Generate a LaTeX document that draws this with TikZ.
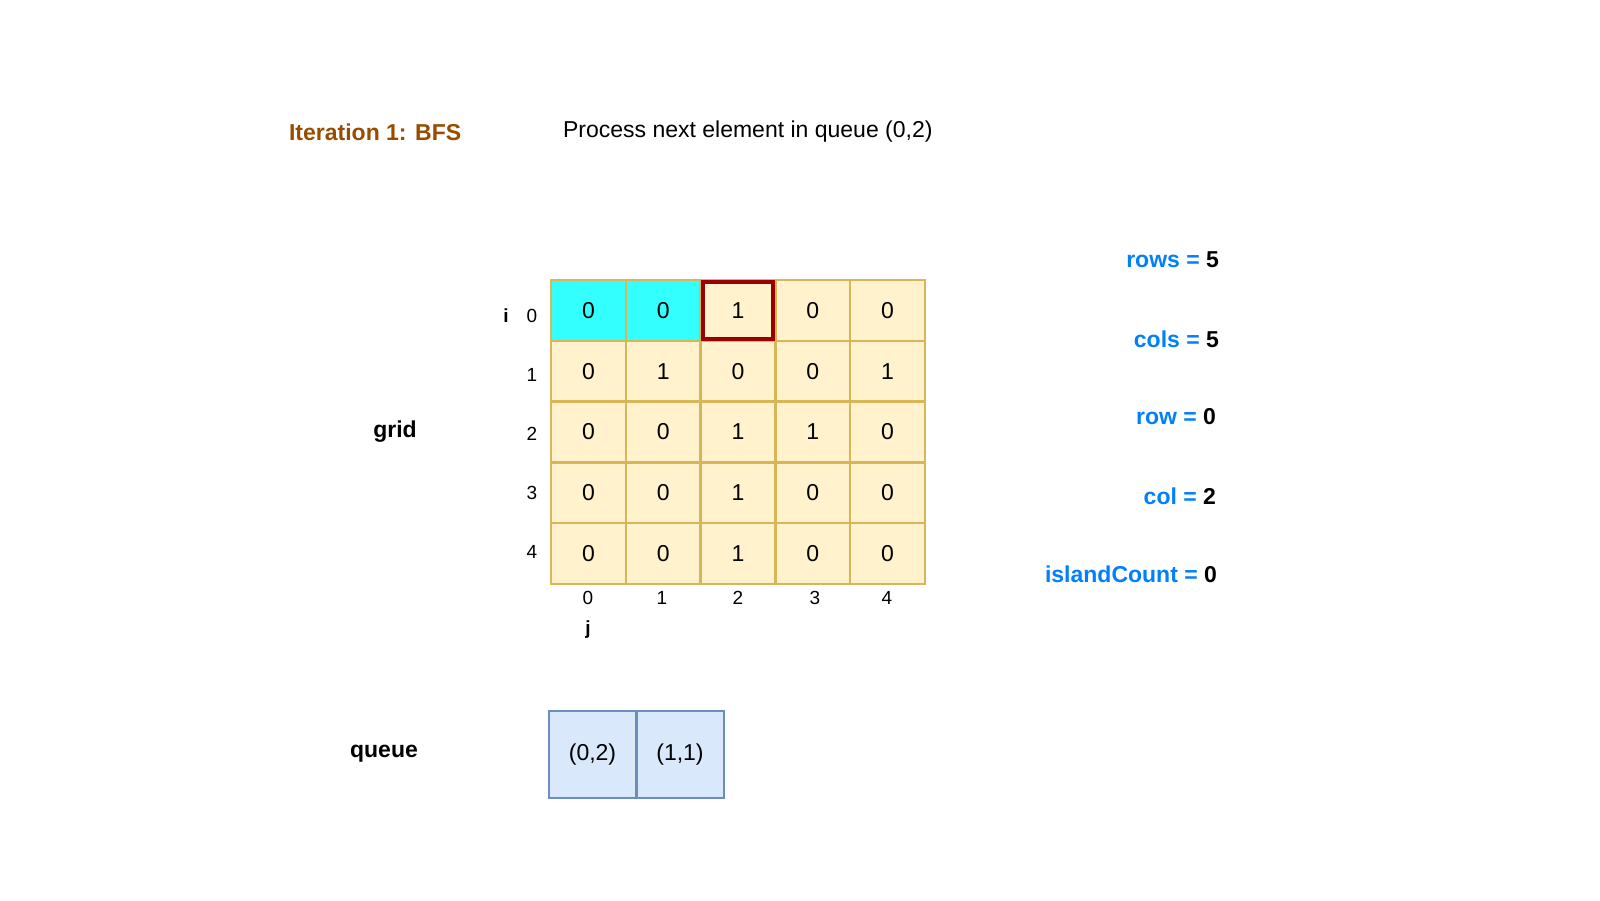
\documentclass[tikz,border=0pt]{standalone}
\usepackage{fontspec}
\setmainfont{Liberation Sans}
\definecolor{cellfill}{HTML}{FFF2CC}
\definecolor{celldraw}{HTML}{D6B656}
\definecolor{qfill}{HTML}{DAE8FC}
\definecolor{qdraw}{HTML}{6C8EBF}
\definecolor{titlecol}{HTML}{994C00}
\definecolor{varcol}{HTML}{007FFF}
\definecolor{hitcol}{HTML}{33FFFF}
\begin{document}
\begin{tikzpicture}[x=0.5pt,y=-0.5pt,
  cell/.style={draw=celldraw,fill=cellfill,line width=1.2pt,minimum width=37.4pt,minimum height=30.4pt,inner sep=0pt,font=\fontsize{11.5}{13}\selectfont},
  qcell/.style={draw=qdraw,fill=qfill,line width=1.2pt,minimum width=43.7pt,minimum height=43.5pt,inner sep=0pt,font=\fontsize{11.5}{13}\selectfont},
  idx/.style={font=\fontsize{9.5}{11}\selectfont},
  lbl/.style={font=\bfseries\fontsize{11.5}{13}\selectfont},
  var/.style={anchor=east,font=\bfseries\fontsize{11.5}{13}\selectfont}]
\useasboundingbox (0,0) rectangle (1600,900);
% headings
\node[lbl,text=titlecol,anchor=west] (title) at (282,132) {Iteration 1: BFS};
\node[anchor=west,font=\fontsize{11.5}{13}\selectfont] (step) at (556,132) {Process next element in queue (0,2)};
% grid
\foreach \r/\vals in {0/{0,0,1,0,0},1/{0,1,0,0,1},2/{0,0,1,1,0},3/{0,0,1,0,0},4/{0,0,1,0,0}}{
  \foreach \v [count=\c from 0] in \vals
    \node[cell] (g\r\c) at (588.4+74.8*\c,310.4+60.8*\r) {\v};
  \node[idx] (ri\r) at (532,316+59*\r) {\r};
}
\node[cell,fill=hitcol] at (g00) {0};
\node[cell,fill=hitcol] at (g01) {0};
\node[cell,draw=red!60!black,line width=1.8pt,minimum width=35pt,minimum height=28.4pt] at (g02) {1};
\foreach \c/\x in {0/588,1/662,2/738,3/815,4/887}
  \node[idx] (ci\c) at (\x,598) {\c};
\node[lbl,font=\bfseries\fontsize{9.5}{11}\selectfont] (iname) at (506,316) {i};
\node[lbl,font=\bfseries\fontsize{9.5}{11}\selectfont] (jname) at (588,630) {j};
\node[lbl] (gridlbl) at (395,432) {grid};
% queue
\node[lbl] (queuelbl) at (384,754) {queue};
\node[qcell] (q0) at (592.5,754.5) {(0,2)};
\node[qcell] (q1) at (680,754.5) {(1,1)};
% variables
\node[var] (rows) at (1226,260) {\textcolor{varcol}{rows =} 5};
\node[var] (cols) at (1226,339) {\textcolor{varcol}{cols =} 5};
\node[var] (row) at (1223,417) {\textcolor{varcol}{row =} 0};
\node[var] (col) at (1223,496) {\textcolor{varcol}{col =} 2};
\node[var] (cnt) at (1224,574) {\textcolor{varcol}{islandCount =} 0};
\end{tikzpicture}
\end{document}
